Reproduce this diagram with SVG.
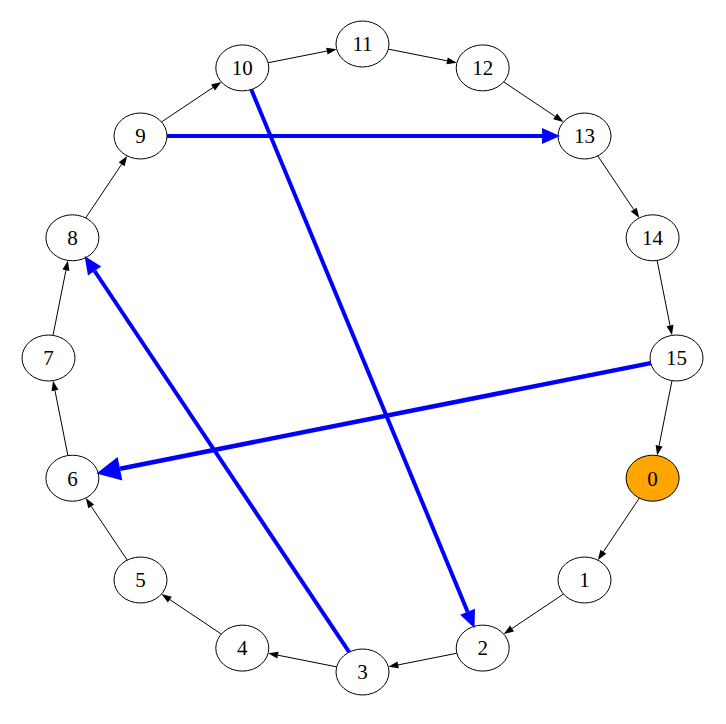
<svg xmlns="http://www.w3.org/2000/svg" width="726" height="724" viewBox="0 0 726 724">
<style>
.n ellipse{fill:#fff;stroke:#000;stroke-width:1}
.n text{font-family:"Liberation Serif","Times New Roman",serif;font-size:21px;text-anchor:middle;fill:#000}
.e{fill:none;stroke:#000;stroke-width:1;marker-end:url(#ah)}
.b{fill:none;stroke:#0000ff;stroke-width:4;marker-end:url(#bh)}
</style>
<defs>
<marker id="ah" markerUnits="userSpaceOnUse" viewBox="0 -4 10 8" markerWidth="10" markerHeight="8" refX="0" refY="0" orient="auto" overflow="visible"><path d="M0,-3.5L10,0L0,3.5z" fill="#000"/></marker>
<marker id="bh" markerUnits="userSpaceOnUse" viewBox="0 -9 18 18" markerWidth="18" markerHeight="18" refX="0" refY="0" orient="auto" overflow="visible"><path d="M0,-8L18,0L0,8z" fill="#0000ff"/></marker>
<marker id="bh2" markerUnits="userSpaceOnUse" viewBox="0 -13 24 26" markerWidth="24" markerHeight="26" refX="0" refY="0" orient="auto" overflow="visible"><path d="M0,-12L24,0L0,12z" fill="#0000ff"/></marker>
</defs>
<rect width="726" height="724" fill="#fff"/>
<g id="n0" class="n"><ellipse cx="652.6" cy="478.2" rx="26.5" ry="23" style="fill:#ffa500"/><text x="652.6" y="485.5">0</text></g>
<g id="n1" class="n"><ellipse cx="584.5" cy="580" rx="26.5" ry="23"/><text x="584.5" y="587.3">1</text></g>
<g id="n2" class="n"><ellipse cx="482.7" cy="648.1" rx="26.5" ry="23"/><text x="482.7" y="655.4">2</text></g>
<g id="n3" class="n"><ellipse cx="362.5" cy="672" rx="26.5" ry="23"/><text x="362.5" y="679.3">3</text></g>
<g id="n4" class="n"><ellipse cx="242.3" cy="648.1" rx="26.5" ry="23"/><text x="242.3" y="655.4">4</text></g>
<g id="n5" class="n"><ellipse cx="140.5" cy="580" rx="26.5" ry="23"/><text x="140.5" y="587.3">5</text></g>
<g id="n6" class="n"><ellipse cx="72.4" cy="478.2" rx="26.5" ry="23"/><text x="72.4" y="485.5">6</text></g>
<g id="n7" class="n"><ellipse cx="48.5" cy="358" rx="26.5" ry="23"/><text x="48.5" y="365.3">7</text></g>
<g id="n8" class="n"><ellipse cx="72.4" cy="237.8" rx="26.5" ry="23"/><text x="72.4" y="245.1">8</text></g>
<g id="n9" class="n"><ellipse cx="140.5" cy="136" rx="26.5" ry="23"/><text x="140.5" y="143.3">9</text></g>
<g id="n10" class="n"><ellipse cx="242.3" cy="67.9" rx="26.5" ry="23"/><text x="242.3" y="75.2">10</text></g>
<g id="n11" class="n"><ellipse cx="362.5" cy="44" rx="26.5" ry="23"/><text x="362.5" y="51.3">11</text></g>
<g id="n12" class="n"><ellipse cx="482.7" cy="67.9" rx="26.5" ry="23"/><text x="482.7" y="75.2">12</text></g>
<g id="n13" class="n"><ellipse cx="584.5" cy="136" rx="26.5" ry="23"/><text x="584.5" y="143.3">13</text></g>
<g id="n14" class="n"><ellipse cx="652.6" cy="237.8" rx="26.5" ry="23"/><text x="652.6" y="245.1">14</text></g>
<g id="n15" class="n"><ellipse cx="676.5" cy="358" rx="26.5" ry="23"/><text x="676.5" y="365.3">15</text></g>
<g id="edges">
<path class="e" d="M639.3,498.1L603.36,551.78"/>
<path class="e" d="M563.5,594.03L512.02,628.51"/>
<path class="e" d="M456.87,653.24L398.14,664.91"/>
<path class="e" d="M336.67,666.86L277.94,655.19"/>
<path class="e" d="M221.3,634.07L169.82,599.59"/>
<path class="e" d="M127.2,560.1L91.26,506.42"/>
<path class="e" d="M67.89,455.53L54.96,390.48"/>
<path class="e" d="M53.01,335.33L65.94,270.28"/>
<path class="e" d="M85.7,217.9L121.64,164.22"/>
<path class="e" d="M161.5,121.97L212.98,87.49"/>
<path class="e" d="M268.13,62.76L326.86,51.09"/>
<path class="e" d="M388.33,49.14L447.06,60.81"/>
<path class="e" d="M503.7,81.93L555.18,116.41"/>
<path class="e" d="M597.8,155.9L633.74,209.58"/>
<path class="e" d="M657.11,260.47L670.04,325.52"/>
<path class="e" d="M671.99,380.67L659.06,445.72"/>
<path class="b" d="M167,136L542,136"/>
<path class="b" d="M251.27,89.55L467.6,611.7"/>
<path class="b" d="M349.2,652.1L94.6,271"/>
<path class="b" style="stroke-width:4.5;marker-end:url(#bh2)" d="M650.67,363.14L120,468.7"/>
</g>
</svg>
